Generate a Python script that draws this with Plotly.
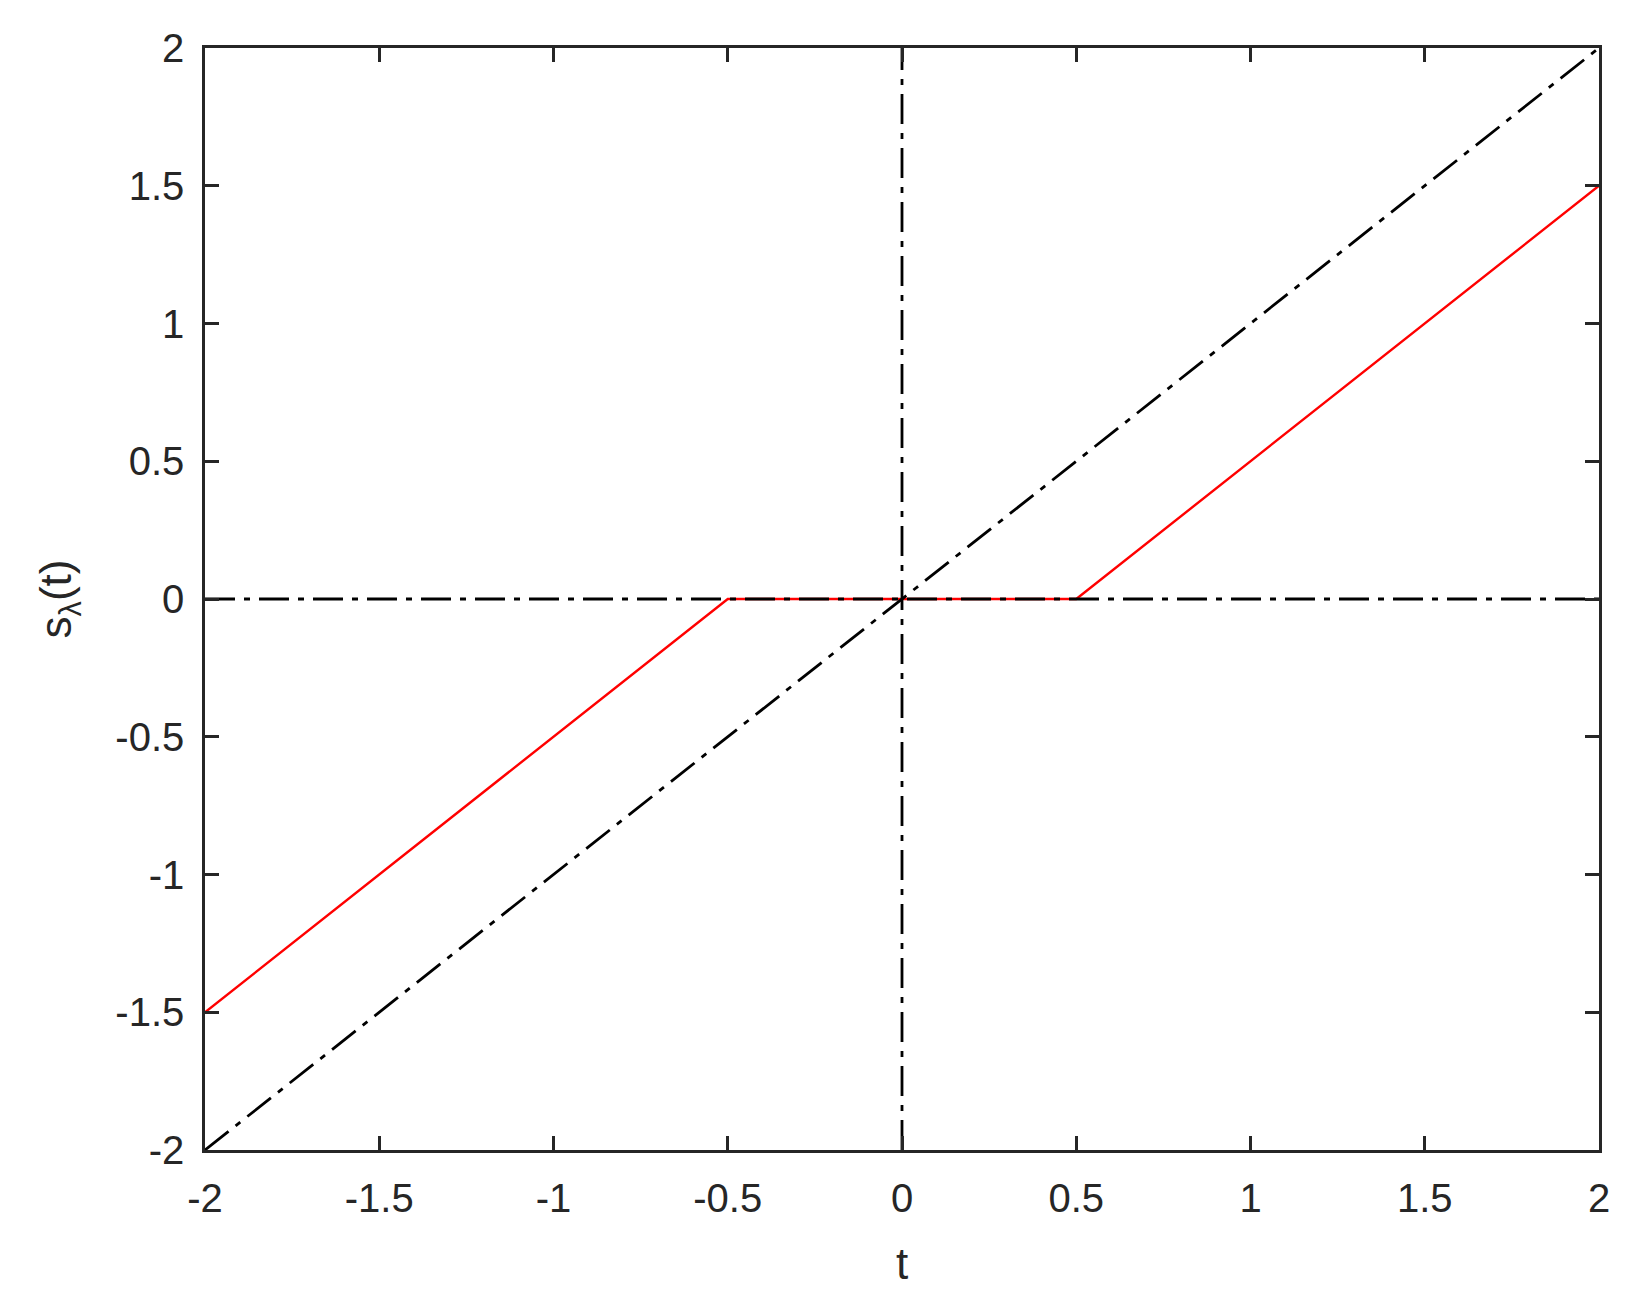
import plotly.graph_objects as go

# data
t_red = [-2.0, -0.5, 0.5, 2.0]
s_red = [-1.5, 0.0, 0.0, 1.5]
t_diag = [-2.0, 2.0]
s_diag = [-2.0, 2.0]
t_hline = [-2.0, 2.0]
s_hline = [0.0, 0.0]
t_vline = [0.0, 0.0]
s_vline = [-2.0, 2.0]
xticks = [-2, -1.5, -1, -0.5, 0, 0.5, 1, 1.5, 2]
yticks = [-2, -1.5, -1, -0.5, 0, 0.5, 1, 1.5, 2]

dd = "30px,9px,6px,9px"
fig = go.Figure()
fig.add_trace(go.Scatter(x=t_red, y=s_red, mode="lines", line=dict(color="#ff0000", width=2.4)))
fig.add_trace(go.Scatter(x=t_diag, y=s_diag, mode="lines", line=dict(color="black", width=2.8, dash=dd)))
fig.add_trace(go.Scatter(x=t_hline, y=s_hline, mode="lines", line=dict(color="black", width=2.8, dash=dd)))
fig.add_trace(go.Scatter(x=t_vline, y=s_vline, mode="lines", line=dict(color="black", width=2.8, dash=dd)))

axis_common = dict(
    showgrid=False, zeroline=False, showline=True, linecolor="#262626", linewidth=2.5,
    mirror="ticks", ticks="inside", ticklen=14, tickwidth=2.5, tickcolor="#262626",
    automargin=False,
    tickfont=dict(size=40, color="#262626", family="Liberation Sans"),
)
fig.update_xaxes(range=[-2, 2], tickvals=xticks, ticktext=[f"{v:g}" for v in xticks],
                 title=dict(text="t", font=dict(size=44, color="#262626", family="Liberation Sans"), standoff=30),
                 ticklabelstandoff=11, **axis_common)
fig.update_yaxes(range=[-2, 2], tickvals=yticks, ticktext=[f"{v:g}" for v in yticks],
                 title=dict(text="s<sub>λ</sub>(t)", font=dict(size=44, color="#262626", family="Liberation Sans"), standoff=30),
                 ticklabelstandoff=10, **axis_common)
fig.update_layout(
    width=1635, height=1305, showlegend=False,
    margin=dict(l=197, r=44, t=40, b=163),
    plot_bgcolor="white", paper_bgcolor="white",
    font=dict(family="Liberation Sans", color="#262626"),
)
fig.write_html("out.html")
